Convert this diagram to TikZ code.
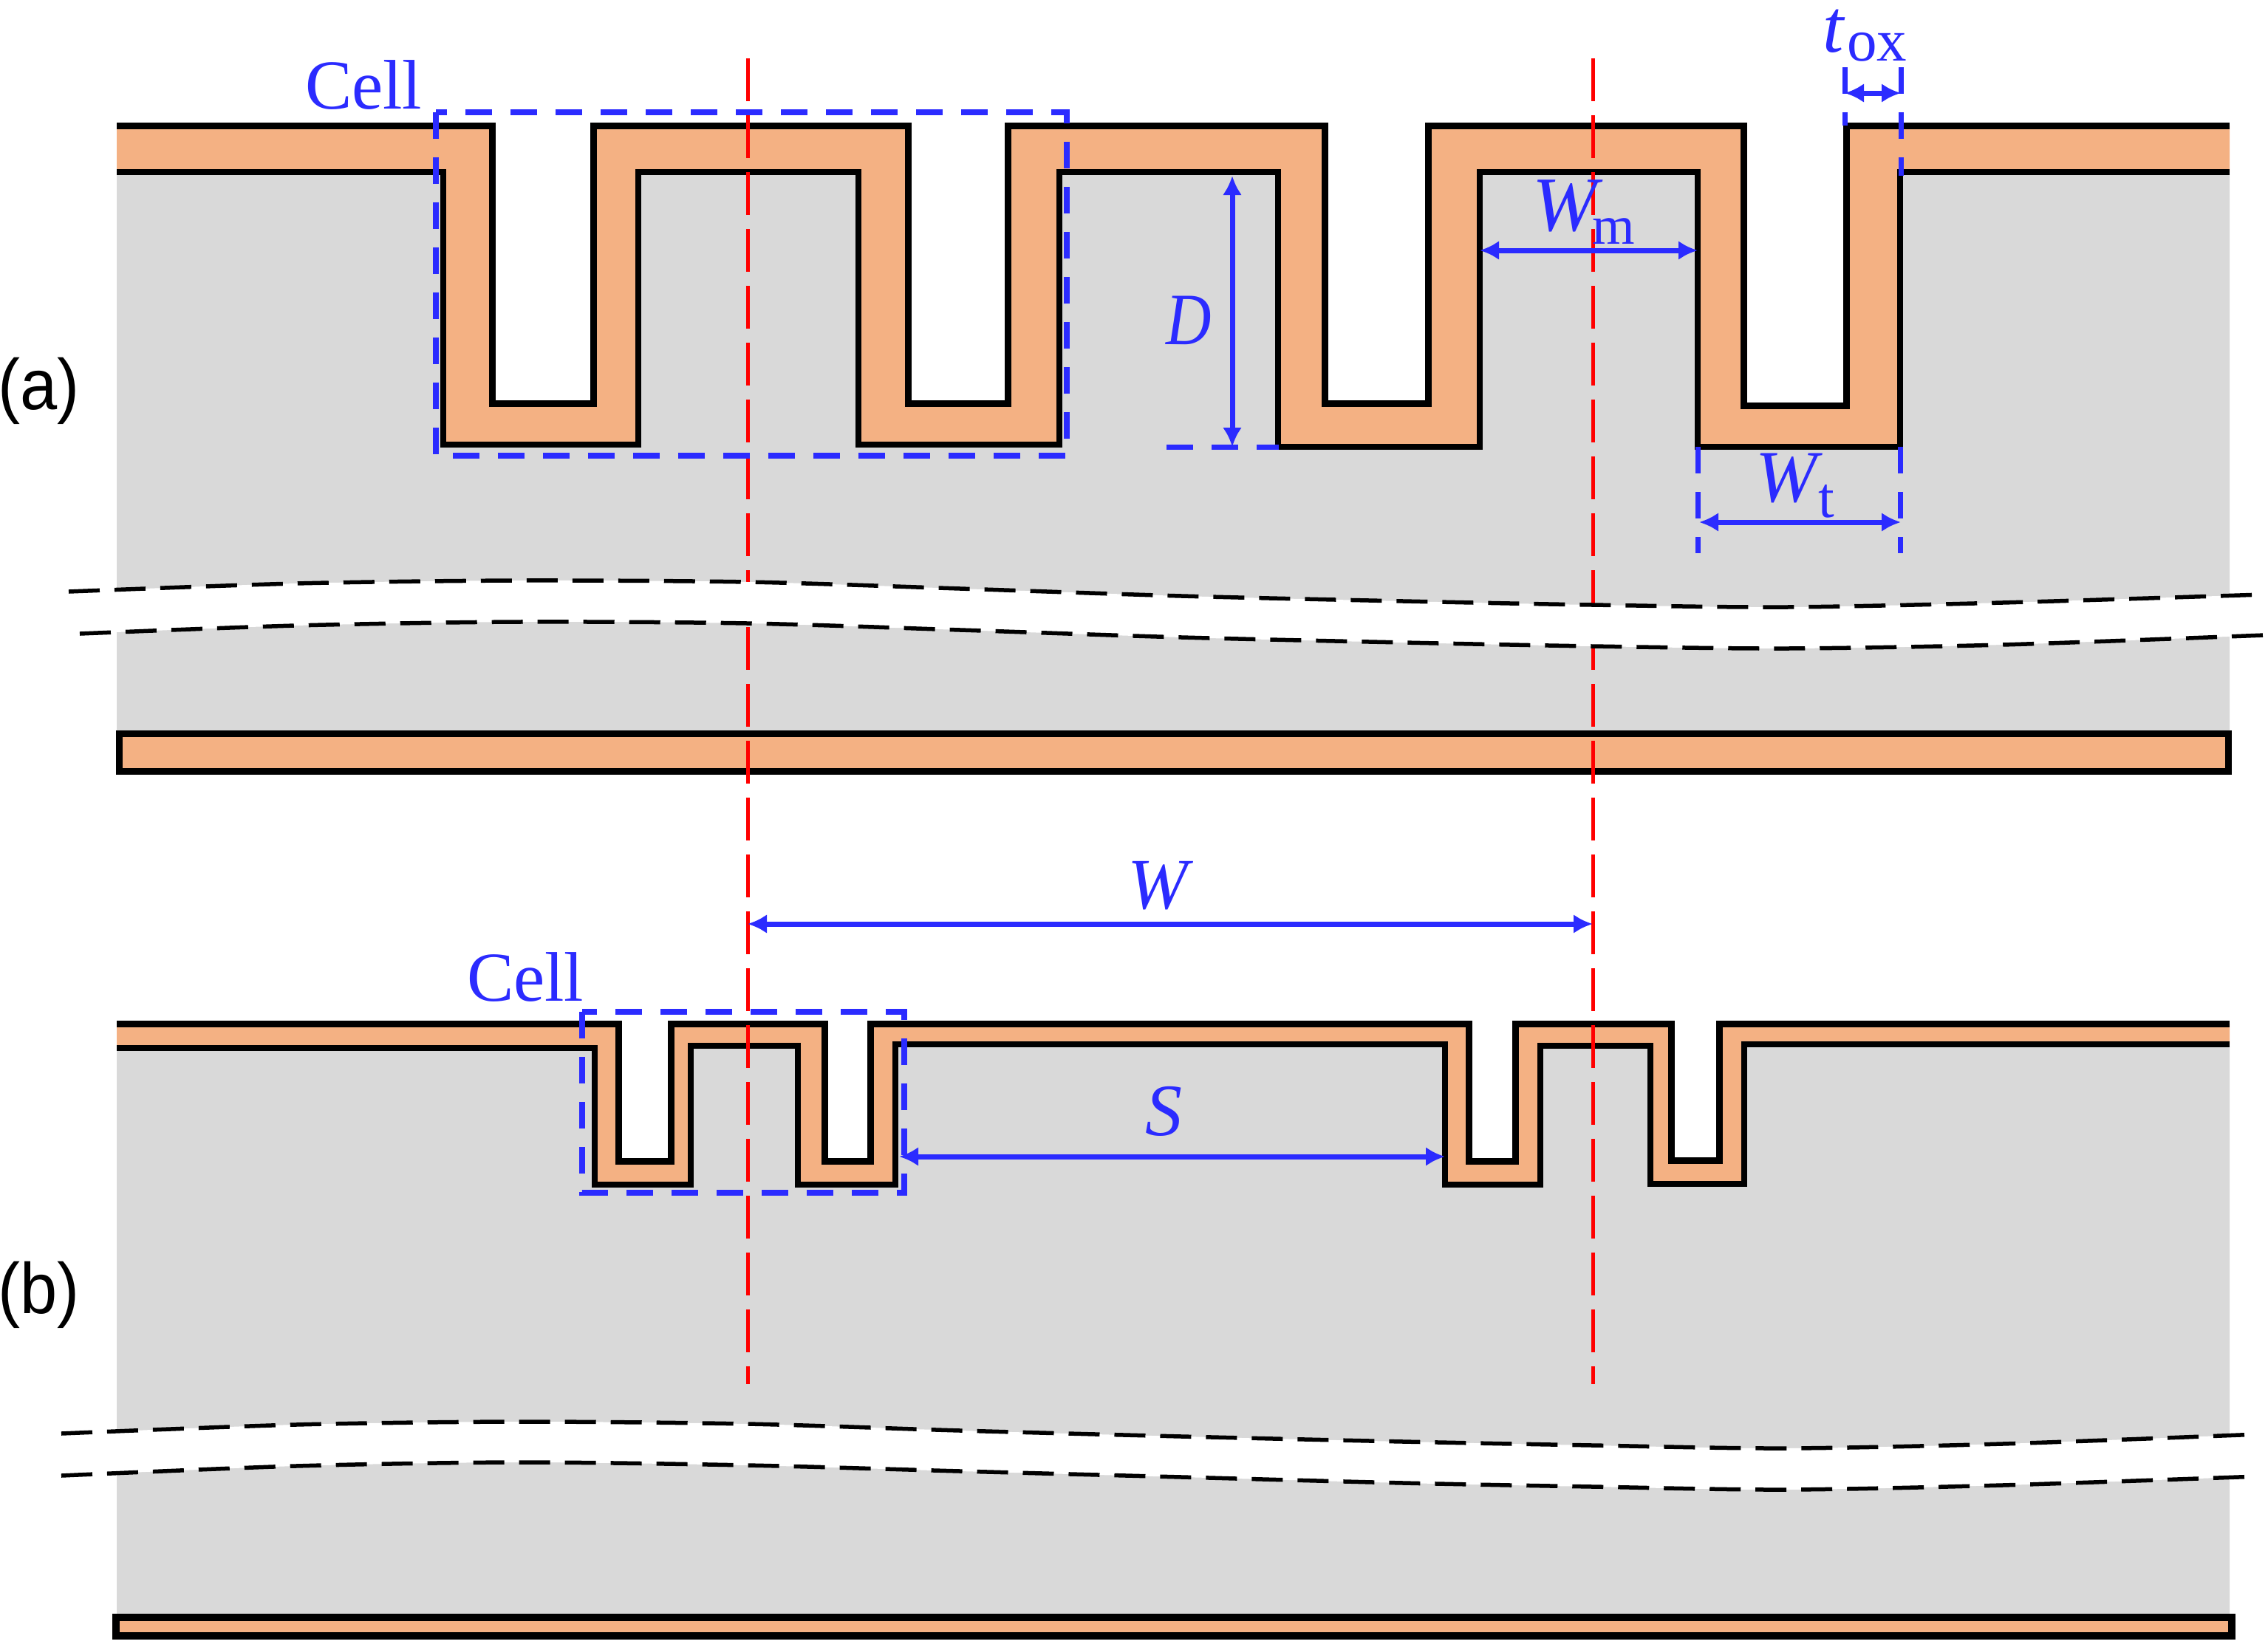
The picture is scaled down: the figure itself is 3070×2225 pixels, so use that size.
\documentclass[tikz,border=0pt]{standalone}
\usepackage{fontspec}
\setmainfont{Liberation Serif}
\newfontfamily\labfont{Liberation Sans}
\usetikzlibrary{arrows.meta}
\definecolor{oxide}{HTML}{F4B183}
\definecolor{sil}{HTML}{D9D9D9}
\definecolor{dimblue}{HTML}{2B2BFF}
\newcommand{\FS}[1]{\fontsize{#1}{#1}\selectfont}
\newcommand{\WAmain}{(158,170) -- (666,170) -- (666,546) -- (803,546) -- (803,170) -- (1229,170) -- (1229,546) -- (1364,546) -- (1364,170) -- (1793,170) -- (1793,546) -- (1933,546) -- (1933,170) -- (2360,170) -- (2360,549) -- (2499,549) -- (2499,170) -- (3018,170)}
\newcommand{\WAlow}{(3018,233) -- (2572,233) -- (2572,605) -- (2298,605) -- (2298,233) -- (2003,233) -- (2003,605) -- (1730,605) -- (1730,233) -- (1434,233) -- (1434,602) -- (1162,602) -- (1162,233) -- (864,233) -- (864,602) -- (600,602) -- (600,233) -- (158,233)}
\newcommand{\WBmain}{(158,1386) -- (837,1386) -- (837,1572) -- (908,1572) -- (908,1386) -- (1116,1386) -- (1116,1572) -- (1178,1572) -- (1178,1386) -- (1988,1386) -- (1988,1572) -- (2051,1572) -- (2051,1386) -- (2262,1386) -- (2262,1571) -- (2327,1571) -- (2327,1386) -- (3018,1386)}
\newcommand{\WBlow}{(3018,1414) -- (2361,1414) -- (2361,1603) -- (2234,1603) -- (2234,1416) -- (2085,1416) -- (2085,1604) -- (1956,1604) -- (1956,1414) -- (1212,1414) -- (1212,1604) -- (1080,1604) -- (1080,1416) -- (935,1416) -- (935,1604) -- (805,1604) -- (805,1419) -- (158,1419)}
\tikzset{
  outline/.style={draw=black,line width=.9mm,line join=miter},
  lowline/.style={draw=black,line width=.8mm,line join=miter},
  breakline/.style={draw=black,line width=.55mm,dash pattern=on 4.2mm off 2mm},
  celldash/.style={draw=dimblue,line width=.75mm,dash pattern=on 3.6mm off 2.5mm},
  guidedash/.style={draw=dimblue,line width=.7mm,dash pattern=on 3.6mm off 2.5mm},
  centerdash/.style={draw=red,line width=.5mm,dash pattern=on 5.8mm off 1.9mm},
  dimarrow/.style={draw=dimblue,line width=.7mm,{Latex[length=2.6mm,width=2.6mm]}-{Latex[length=2.6mm,width=2.6mm]}},
  lab/.style={text=dimblue,inner sep=0pt,outer sep=0pt,anchor=base west},
  panel/.style={text=black,inner sep=0pt,outer sep=0pt,anchor=base west,font=\labfont\FS{9.7mm}}
}
\begin{document}
\begin{tikzpicture}[x=.1mm,y=-.1mm]
\useasboundingbox (0,0) rectangle (3070,2225);
% substrates follow the lower outline, so the open trenches stay white
\fill[sil] \WAlow -- (158,993) -- (3018,993) -- cycle;
\fill[sil] \WBlow -- (158,2189) -- (3018,2189) -- cycle;
% oxide ribbons
\fill[oxide] \WAmain -- \WAlow -- cycle;
\fill[oxide] \WBmain -- \WBlow -- cycle;
\draw[outline] \WAmain;
\draw[lowline] \WAlow;
\draw[outline] \WBmain;
\draw[lowline] \WBlow;
% back plates
\draw[outline,fill=oxide] (161,993) rectangle (3016,1044);
\draw[outline,line width=1mm,fill=oxide] (157,2190) rectangle (3021,2215);
% centre lines
\draw[centerdash] (1012,79) -- (1012,1874);
\draw[centerdash] (2156,79) -- (2156,1874);
% breaks
\fill[white] plot[smooth] coordinates {(93,801) (400,790) (700,786) (1012,788) (1300,797) (1600,807) (1900,814) (2156,819) (2416,822) (2710,816) (3062,805)}
  -- plot[smooth] coordinates {(3065,860) (2710,873) (2416,878) (2156,875) (1900,870) (1600,863) (1300,853) (1012,844) (700,842) (400,847) (108,858)} -- cycle;
\fill[white] plot[smooth] coordinates {(83,1941) (400,1929) (700,1925) (1012,1928) (1300,1937) (1600,1945) (1900,1952) (2156,1957) (2416,1961) (2710,1955) (3057,1942)}
  -- plot[smooth] coordinates {(3057,1999) (2710,2011) (2416,2017) (2156,2013) (1900,2008) (1600,2000) (1300,1992) (1012,1984) (700,1980) (400,1985) (83,1998)} -- cycle;
\draw[breakline] plot[smooth] coordinates {(93,801) (400,790) (700,786) (1012,788) (1300,797) (1600,807) (1900,814) (2156,819) (2416,822) (2710,816) (3062,805)};
\draw[breakline] plot[smooth] coordinates {(108,858) (400,847) (700,842) (1012,844) (1300,853) (1600,863) (1900,870) (2156,875) (2416,878) (2710,873) (3065,860)};
\draw[breakline] plot[smooth] coordinates {(83,1941) (400,1929) (700,1925) (1012,1928) (1300,1937) (1600,1945) (1900,1952) (2156,1957) (2416,1961) (2710,1955) (3057,1942)};
\draw[breakline] plot[smooth] coordinates {(83,1998) (400,1985) (700,1980) (1012,1984) (1300,1992) (1600,2000) (1900,2008) (2156,2013) (2416,2017) (2710,2011) (3057,1999)};
% cells
\draw[celldash] (590,152) rectangle (1444,617);
\draw[celldash] (788,1370) rectangle (1224,1615);
% guides
\draw[guidedash] (1579,605) -- (1731,605);
\draw[guidedash] (2298,605) -- (2298,749);
\draw[guidedash] (2572,605) -- (2572,749);
\draw[guidedash] (2497,91) -- (2497,170);
\draw[guidedash] (2573,91) -- (2573,238);
% dimension ends
\coordinate (Dt) at (1668,238); \coordinate (Db) at (1668,605);
\coordinate (Wml) at (2003,339); \coordinate (Wmr) at (2298,339);
\coordinate (Wtl) at (2300,707); \coordinate (Wtr) at (2573,707);
\coordinate (Toxl) at (2497,126); \coordinate (Toxr) at (2573,126);
\coordinate (Wl) at (1012,1251); \coordinate (Wr) at (2156,1251);
\coordinate (Sl) at (1217,1566); \coordinate (Sr) at (1956,1566);
\draw[dimarrow] (Dt) -- (Db);
\draw[dimarrow] (Wml) -- (Wmr);
\draw[dimarrow] (Wtl) -- (Wtr);
\draw[dimarrow] (Toxl) -- (Toxr);
\draw[dimarrow] (Wl) -- (Wr);
\draw[dimarrow] (Sl) -- (Sr);
% labels
\node[lab,font=\FS{9.5mm}] (cella) at (413,147) {Cell};
\node[lab,font=\FS{9.5mm}] (cellb) at (632,1355) {Cell};
\node[lab,font=\FS{10mm}\itshape,xscale=.85] (D) at (1578,466) {D};
\node[lab,font=\FS{10.5mm}] (Wm) at (2074,312) {\textit{W}\kern-1.4mm\raisebox{-1.8mm}{\FS{7.4mm}m}};
\node[lab,font=\FS{10mm}] (Wt) at (2376,679) {\textit{W}\kern-.5mm\raisebox{-2.1mm}{\FS{7.8mm}t}};
\node[lab,font=\FS{10.2mm}] (Tox) at (2467,70) {\textit{t}\kern.3mm\raisebox{-1.2mm}{\FS{8.1mm}ox}};
\node[lab,font=\FS{9.8mm}\itshape] (W) at (1526,1230) {W};
\node[lab,font=\FS{10mm}\itshape] (S) at (1550,1537) {S};
\node[panel,xscale=.93] (pa) at (-3,554) {(a)};
\node[panel,xscale=.93] (pb) at (-3,1778) {(b)};
\end{tikzpicture}
\end{document}
